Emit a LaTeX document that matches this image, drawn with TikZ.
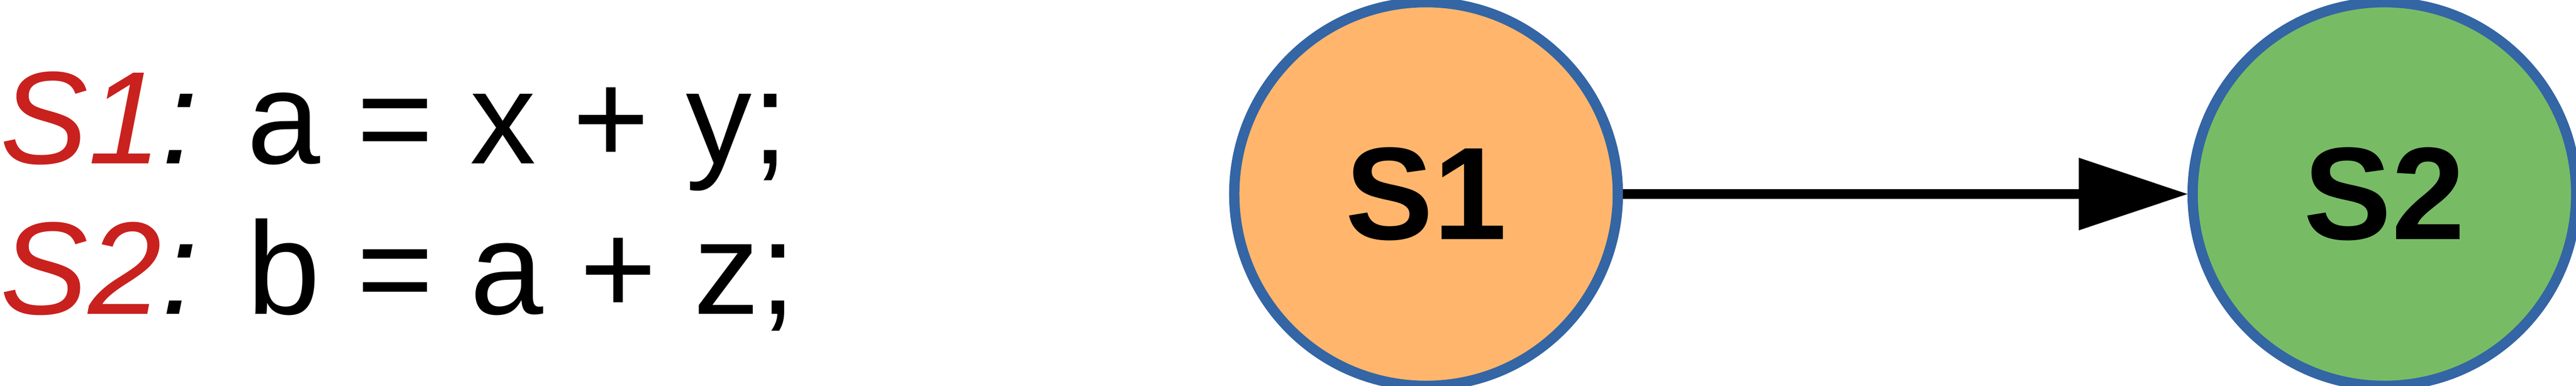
\documentclass[tikz,border=0pt]{standalone}
\usepackage{fontspec}
\setmainfont{Liberation Sans}
\usetikzlibrary{arrows.meta}
\definecolor{stmtred}{HTML}{C9211E}
\definecolor{ringblue}{HTML}{3465A4}
\definecolor{fillorange}{HTML}{FFB66C}
\definecolor{fillgreen}{HTML}{77BC65}
\begin{document}
\begin{tikzpicture}[
  stmt/.style={anchor=base west, inner sep=0pt, font=\fontsize{94.5}{113}\selectfont},
  state/.style={circle, draw=ringblue, line width=0.26cm, minimum size=9.67cm, inner sep=0pt, font=\fontsize{94.5}{113}\selectfont\bfseries},
  flow/.style={line width=0.25cm, -{Triangle[length=2.74cm, width=1.83cm, line width=0pt]}}
]
\useasboundingbox (0,0) rectangle (64.94,9.72);
\node[stmt] (L_1) at (0,5.60) {\textcolor{stmtred}{\itshape S1}\textit{:} a = x + y;};
\node[stmt] (L_2) at (0,1.81) {\textcolor{stmtred}{\itshape S2}\textit{:} b = a + z;};
\node[state, fill=fillorange] (S_1) at (35.95,4.83) {S1};
\node[state, fill=fillgreen] (S_2) at (60.11,4.83) {S2};
\draw[flow] (S_1) -- (S_2);
\end{tikzpicture}
\end{document}
